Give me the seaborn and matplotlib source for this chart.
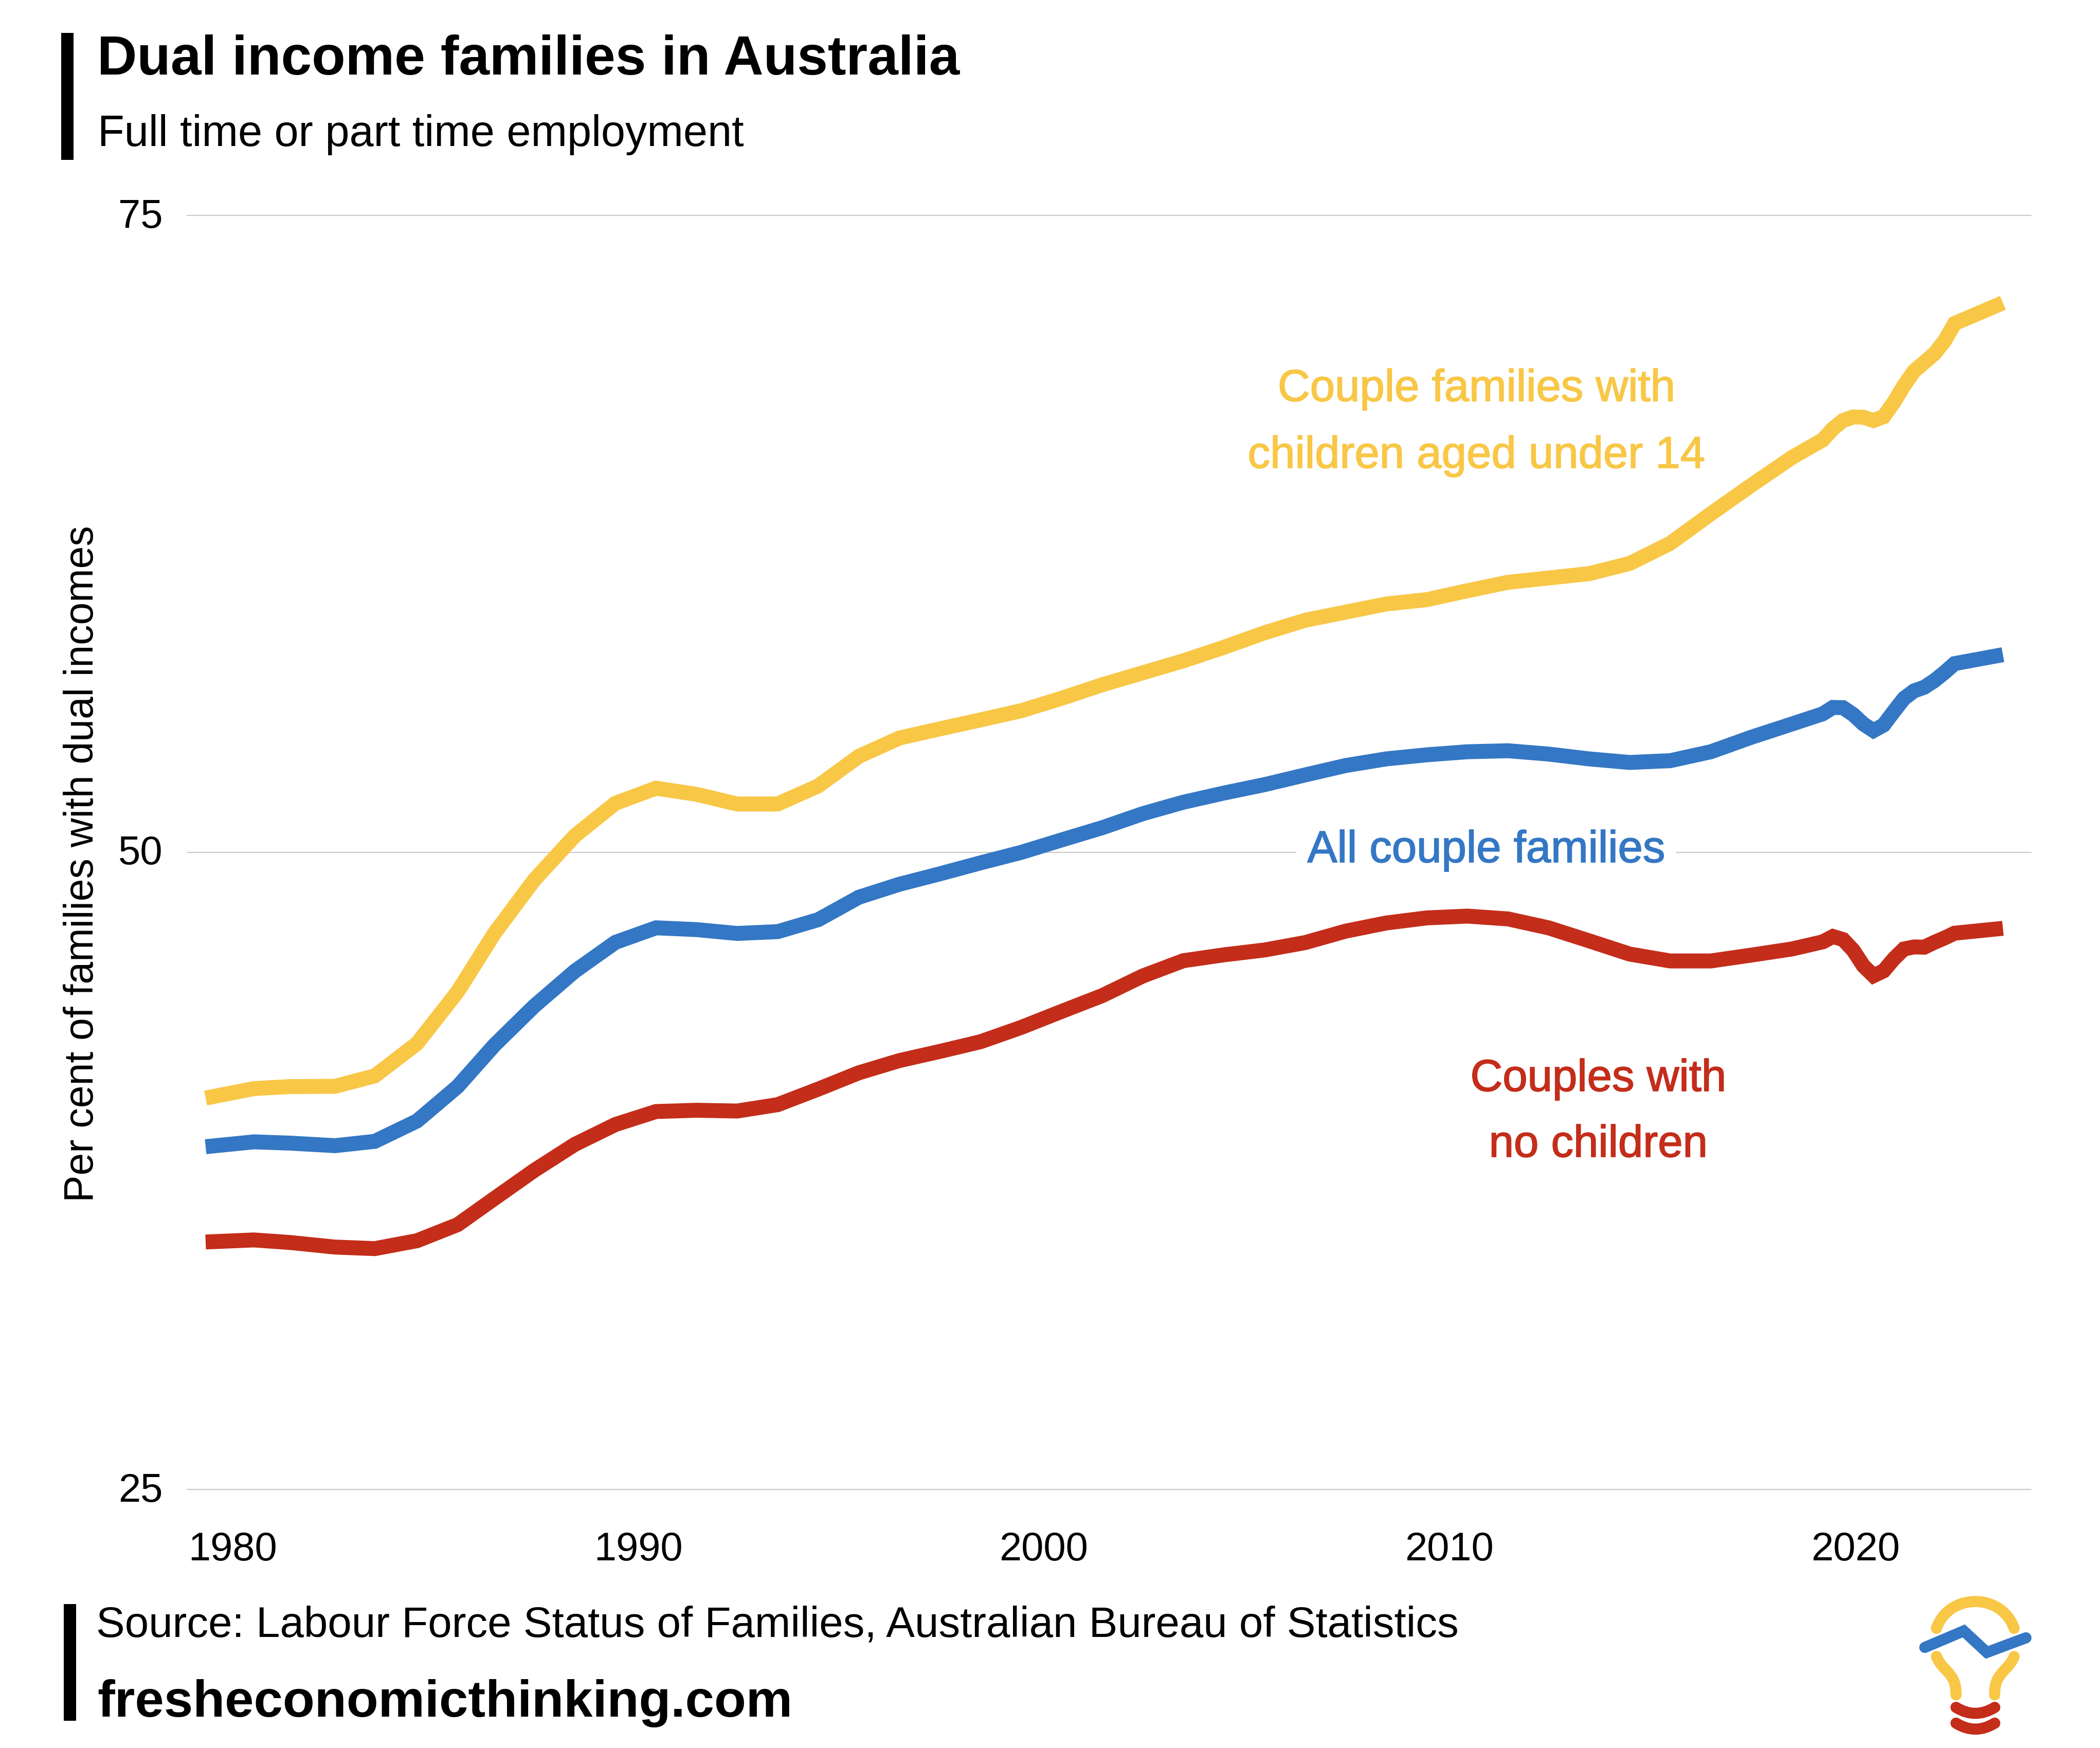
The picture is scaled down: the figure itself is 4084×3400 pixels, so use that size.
import matplotlib
matplotlib.use('agg')
import matplotlib.pyplot as plt
import matplotlib.patheffects as pe
from matplotlib.patches import PathPatch, Rectangle
from matplotlib.path import Path
from matplotlib.transforms import ScaledTranslation
import pandas as pd
import seaborn as sns

YELLOW = '#F8C746'
BLUE = '#3477C4'
RED = '#C32D1A'

# yearly points sit a little past the tick, the last few years are quarterly
years = [1979.34, 1980.53, 1981.42, 1982.53, 1983.51, 1984.55, 1985.55, 1986.46, 1987.44, 1988.44,
	1989.44, 1990.44, 1991.44, 1992.44, 1993.44, 1994.44, 1995.44, 1996.44, 1997.44, 1998.44,
	1999.44, 2000.44, 2001.44, 2002.44, 2003.44, 2004.44, 2005.44, 2006.44, 2007.44, 2008.44,
	2009.44, 2010.44, 2011.44, 2012.44, 2013.44, 2014.44, 2015.44, 2016.44, 2017.44, 2018.44,
	2019.2, 2019.45, 2019.7, 2019.95, 2020.2, 2020.45, 2020.7, 2020.95, 2021.2, 2021.45,
	2021.7, 2021.95, 2022.2, 2022.45, 2023.64]

with_kids = [40.36, 40.73, 40.81, 40.82, 41.23, 42.50, 44.53, 46.83, 48.92, 50.65,
	51.93, 52.52, 52.28, 51.90, 51.90, 52.61, 53.77, 54.49, 54.85, 55.20,
	55.56, 56.05, 56.58, 57.05, 57.52, 58.05, 58.62, 59.11, 59.43, 59.75,
	59.92, 60.27, 60.60, 60.77, 60.94, 61.34, 62.13, 63.29, 64.41, 65.50,
	66.19, 66.63, 66.95, 67.09, 67.08, 66.95, 67.10, 67.66, 68.32, 68.89,
	69.23, 69.57, 70.07, 70.76, 71.57]

all_couples = [38.45, 38.64, 38.59, 38.49, 38.66, 39.46, 40.81, 42.44, 43.97, 45.34,
	46.47, 47.04, 46.97, 46.82, 46.89, 47.36, 48.24, 48.75, 49.16, 49.59,
	50.00, 50.49, 50.97, 51.52, 51.97, 52.33, 52.66, 53.04, 53.41, 53.67,
	53.83, 53.95, 53.99, 53.86, 53.67, 53.53, 53.60, 53.95, 54.52, 55.04,
	55.44, 55.69, 55.68, 55.41, 55.04, 54.78, 55.00, 55.53, 56.04, 56.34,
	56.48, 56.74, 57.06, 57.41, 57.76]

no_kids = [34.71, 34.79, 34.69, 34.51, 34.45, 34.76, 35.39, 36.42, 37.52, 38.54,
	39.32, 39.83, 39.88, 39.85, 40.10, 40.71, 41.35, 41.83, 42.19, 42.57,
	43.13, 43.76, 44.38, 45.15, 45.75, 45.98, 46.17, 46.46, 46.91, 47.23,
	47.43, 47.50, 47.39, 47.04, 46.53, 46.01, 45.74, 45.74, 45.97, 46.21,
	46.49, 46.70, 46.58, 46.16, 45.55, 45.16, 45.35, 45.82, 46.21, 46.29,
	46.28, 46.47, 46.64, 46.83, 47.02]

series_names = ['Couple families with children aged under 14', 'All couple families', 'Couples with no children']
x_ticks = [1980, 1990, 2000, 2010, 2020]
y_ticks = [25, 50, 75]

W, H = 4084, 3400
LEFT, RIGHT, TOP, BOTTOM = 364, 3950, 419, 2897
PX_PER_YEAR = 78.9

df = pd.DataFrame({
	'year': years * 3,
	'share': with_kids + all_couples + no_kids,
	'series': [s for s in series_names for _ in years],
})

sns.set_theme(style='white')
plt.rcParams['font.family'] = ['Liberation Sans', 'DejaVu Sans']

fig = plt.figure(figsize=(W / 100, H / 100), dpi=100, facecolor='white')
ax = fig.add_axes([LEFT / W, 1 - BOTTOM / H, (RIGHT - LEFT) / W, (BOTTOM - TOP) / H])

sns.lineplot(data=df, x='year', y='share', hue='series', hue_order=series_names,
	palette=[YELLOW, BLUE, RED], sort=False, errorbar=None, estimator=None, legend=False,
	linewidth=20.9, solid_capstyle='butt', solid_joinstyle='miter', ax=ax, zorder=3)

ax.set_xlim(1980 - (452 - LEFT) / PX_PER_YEAR, 1980 + (RIGHT - 452) / PX_PER_YEAR)
ax.set_ylim(25, 75)
sns.despine(ax=ax, left=True, bottom=True)
for v in y_ticks:
	ax.axhline(v, color='#CBCBCB', lw=1.6, zorder=1, clip_on=False)

ax.set_xticks(x_ticks)
ax.set_xticklabels([str(v) for v in x_ticks])
ax.set_yticks(y_ticks)
ax.set_yticklabels([str(v) for v in y_ticks])
ax.tick_params(axis='x', direction='inout', color='white', width=2.9, length=8, pad=54, labelsize=56, labelcolor='black', bottom=True)
ax.tick_params(axis='y', length=0, pad=34, labelsize=56, labelcolor='black')
for label in ax.get_yticklabels():
	label.set_transform(label.get_transform() + ScaledTranslation(0, 5 / 100, fig.dpi_scale_trans))
ax.set_xlabel('')
ax.set_ylabel('Per cent of families with dual incomes', fontsize=56.6, color='black', va='center')
ax.yaxis.set_label_coords((161 - LEFT) / (RIGHT - LEFT), (BOTTOM - 1680) / (BOTTOM - TOP))

# everything around the chart goes on an overlay measured in pixels
over = fig.add_axes([0, 0, 1, 1], facecolor='none')
over.set_xlim(0, W)
over.set_ylim(H, 0)
over.axis('off')

over.add_patch(Rectangle((119, 64), 24, 247, fc='black', ec='none'))
over.add_patch(Rectangle((124, 3120), 24, 227, fc='black', ec='none'))
over.text(189, 145, 'Dual income families in Australia', fontsize=77.2, fontweight='bold', color='black', va='baseline')
over.text(190, 284, 'Full time or part time employment', fontsize=60.9, color='black', va='baseline')
over.text(187, 3184, 'Source: Labour Force Status of Families, Australian Bureau of Statistics', fontsize=60.1, color='black', va='baseline')
over.text(189, 3339, 'fresheconomicthinking.com', fontsize=73, fontweight='bold', color='black', va='baseline')

# the labels are a medium weight, a thin outline of the same colour gets close
def seriesLabel(x, y, text, color, **kw):
	t = over.text(x, y, text, fontsize=62.6, color=color, ha='center', va='baseline', **kw)
	t.set_path_effects([pe.withStroke(linewidth=1.3, foreground=color)])


seriesLabel(2871, 780, 'Couple families with', YELLOW)
seriesLabel(2871, 910, 'children aged under 14', YELLOW)
seriesLabel(2890, 1677, 'All couple families', BLUE, bbox=dict(fc='white', ec='none', pad=15.8))
seriesLabel(3108, 2122, 'Couples with', RED)
seriesLabel(3108, 2250, 'no children', RED)


def logoPath(points, codes, color):
	verts = [(3600 + px / 3, 3050 + py / 3) for px, py in points]
	over.add_patch(PathPatch(Path(verts, codes), fc='none', ec=color, lw=15.6, capstyle='round', joinstyle='miter'))


C3 = Path.CURVE3
C4 = Path.CURVE4
MV = Path.MOVETO
LN = Path.LINETO
bend_left = [(498, 516), (520, 570), (555, 590), (575, 620), (600, 650), (612, 680), (612, 740)]
bend_right = [(1449 - px, py) for px, py in bend_left]
bend_codes = [MV, C4, C4, C4, C4, C4, C4]
logoPath([(498, 352), (570, 143), (879, 143), (951, 352)], [MV, C4, C4, C4], YELLOW)
logoPath(bend_left, bend_codes, YELLOW)
logoPath(bend_right, bend_codes, YELLOW)
logoPath([(430, 463), (657, 367), (792, 492), (1020, 407)], [MV, LN, LN, LN], BLUE)
logoPath([(612, 813), (725, 883), (838, 813)], [MV, C3, C3], RED)
logoPath([(612, 905), (725, 975), (838, 905)], [MV, C3, C3], RED)

fig.savefig('out.png', dpi=100, facecolor='white')
plt.close(fig)
